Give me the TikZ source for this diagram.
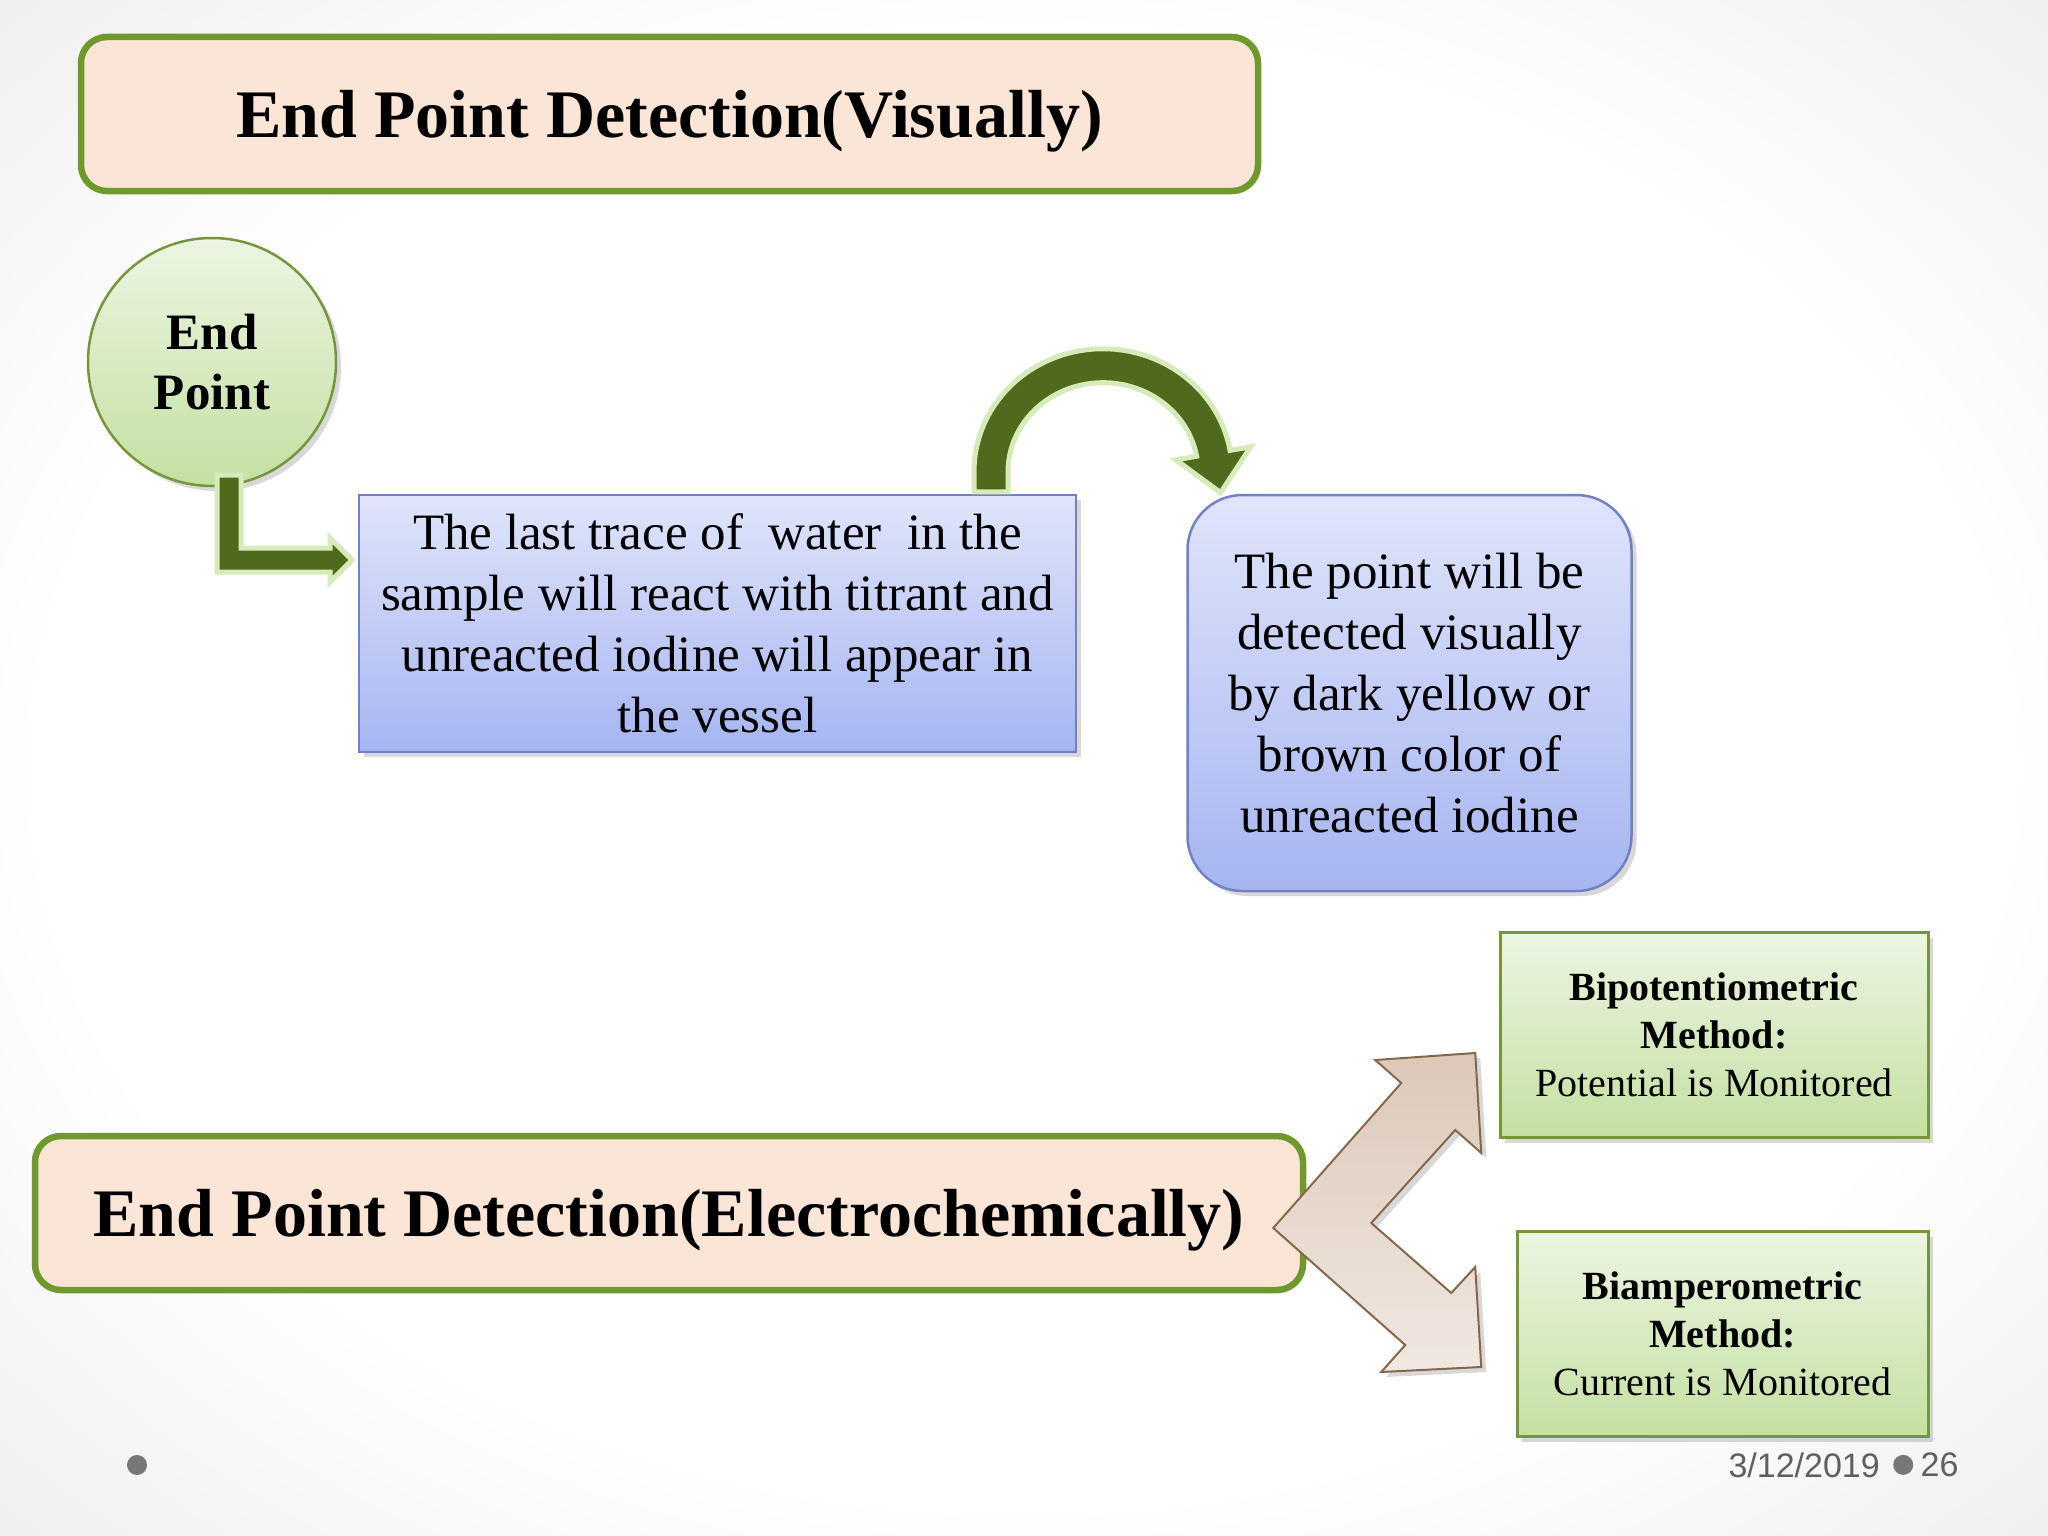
\documentclass[tikz,border=0pt]{standalone}
\usepackage{fontspec}
\setmainfont{Liberation Serif}
\setsansfont{Liberation Sans}
\usetikzlibrary{positioning, shadows, calc}

\definecolor{titlefill}{RGB}{251,229,214}
\definecolor{titleline}{RGB}{112,153,45}
\definecolor{leaftop}{RGB}{236,245,226}
\definecolor{leafbot}{RGB}{196,224,162}
\definecolor{leafline}{RGB}{118,150,60}
\definecolor{bluetop}{RGB}{224,229,250}
\definecolor{bluebot}{RGB}{166,181,241}
\definecolor{blueline}{RGB}{112,130,196}
\definecolor{arrowdark}{RGB}{79,106,28}
\definecolor{arrowlight}{RGB}{214,234,186}
\definecolor{tantop}{RGB}{221,200,184}
\definecolor{tanbot}{RGB}{240,232,226}
\definecolor{tanline}{RGB}{133,104,74}
\definecolor{footgray}{RGB}{95,95,95}

\pgfdeclareradialshading{slidebg}{\pgfpoint{0bp}{0bp}}{color(0bp)=(white); color(24bp)=(white); color(50bp)=(black!14); color(72bp)=(black!24)}

\begin{document}
\begin{tikzpicture}[x=1pt, y=-1pt,
    titlebox/.style={draw=titleline, line width=6.5pt, fill=titlefill, rounded corners=26pt, inner sep=0pt, text depth=0pt, font=\fontsize{68}{80}\selectfont\bfseries},
    leafcircle/.style={circle, draw=leafline, line width=2.5pt, top color=leaftop, bottom color=leafbot, minimum size=248pt, inner sep=0pt, align=center, font=\fontsize{51}{60}\selectfont\bfseries, drop shadow={shadow xshift=5pt, shadow yshift=-5pt, opacity=0.3}},
    bluebox/.style={draw=blueline, line width=2.5pt, top color=bluetop, bottom color=bluebot, inner sep=0pt, align=center, font=\fontsize{51}{61}\selectfont, drop shadow={shadow xshift=5pt, shadow yshift=-5pt, opacity=0.3}},
    methodbox/.style={draw=leafline, line width=3pt, top color=leaftop, bottom color=leafbot, inner sep=0pt, align=center, minimum height=205pt, font=\fontsize{40}{48}\selectfont, drop shadow={shadow xshift=5pt, shadow yshift=-6pt, opacity=0.3}},
    blockarrow/.style={fill=arrowdark, draw=arrowlight, line width=5pt},
    splitarrow/.style={top color=tantop, bottom color=tanbot, draw=tanline, line width=2pt, drop shadow={shadow xshift=5pt, shadow yshift=-5pt, opacity=0.3}},
    footdot/.style={circle, fill=footgray!85, minimum size=20pt, inner sep=0pt},
    foottext/.style={text=footgray, inner sep=0pt, font=\sffamily\fontsize{34}{40}\selectfont}]

  \useasboundingbox (0,0) rectangle (2048,1536);
  \shade[shading=slidebg] (0,0) rectangle (2048,1536);

  % headings
  \node[titlebox, minimum width=1177pt, minimum height=154pt] (vis) at (669.5,114) {End Point Detection(Visually)};
  \node[titlebox, minimum width=1268pt, minimum height=154pt] (elec) at (669,1213) {End Point Detection(Electrochemically)};

  % visual detection
  \node[leafcircle] (ept) at (212,362) {End\\Point};
  \node[bluebox, minimum width=717pt, minimum height=257pt] (trace) at (717.5,623.5)
    {The last trace of\ \ water\ \ in the\\sample will react with titrant and\\unreacted iodine will appear in\\the vessel};
  \node[bluebox, rounded corners=55pt, minimum width=444pt, minimum height=396pt, right=109pt of trace.north east, anchor=north west] (seen)
    {The point will be\\detected visually\\by dark yellow or\\brown color of\\unreacted iodine};

  \filldraw[blockarrow] ($(ept.center)+(5,113)$) -- ++(24,0) -- ++(0,73) -- ++(89,0) -- ++(0,-10)
    -- ++(22,22) -- ++(-22,22) -- ++(0,-10) -- ++(-113,0) -- cycle;

  \coordinate (hinge) at ($(trace.north)+(385.5,-22)$);
  \begin{scope}[shift={(hinge)}]
    \filldraw[blockarrow] (-129,20) -- (-129,0) arc[start angle=180, end angle=350, x radius=129, y radius=123]
      -- (147.7,-24.9) -- (117.6,20.9) -- (72.9,-11.9) -- (93.6,-15.5)
      arc[start angle=350, end angle=180, x radius=95, y radius=89] -- (-95,20) -- cycle;
  \end{scope}

  % electrochemical detection
  \node[methodbox, minimum width=428pt] (bipot) at (1714,1034.5)
    {\textbf{Bipotentiometric}\\\textbf{Method:}\\Potential is Monitored};
  \node[methodbox, minimum width=411pt, below=91pt of bipot.south east, anchor=north east] (biamp)
    {\textbf{Biamperometric}\\\textbf{Method:}\\Current is Monitored};

  \begin{scope}[shift={(elec.east)}]
    \filldraw[splitarrow] (-33,15) -- (95,-130) -- (69,-153) -- (169,-160) -- (175,-60) -- (149,-83)
      -- (65,10) -- (145,80) -- (169,54) -- (175,154) -- (75,159) -- (99,132) -- cycle;
  \end{scope}

  % footer
  \node[footdot] (ldot) at (137,1465) {};
  \node[foottext, anchor=base east] (date) at (1880,1477) {3/12/2019};
  \node[footdot, right=13pt of date] (mdot) {};
  \node[foottext, right=7pt of mdot] (page) {26};
\end{tikzpicture}
\end{document}
